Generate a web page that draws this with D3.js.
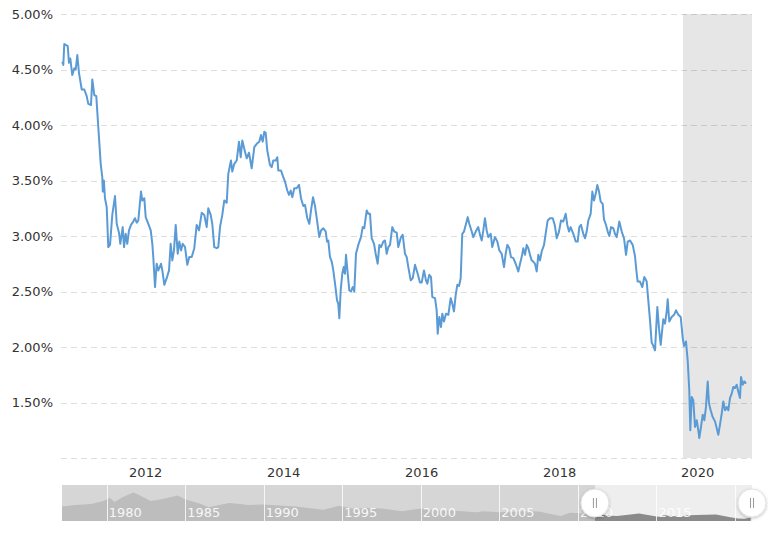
<!DOCTYPE html>
<html>
<head>
<meta charset="utf-8">
<script src="https://cdn.jsdelivr.net/npm/d3@7"></script>
<style>
  html, body { margin: 0; padding: 0; background: #fff; }
  svg { display: block; font-family: "DejaVu Sans", Verdana, sans-serif; }
</style>
</head>
<body>
<div id="chart"></div>
<script>
// weekly-ish readings, [decimal year, yield %]
const yields2011 = [[2011.089,4.57],[2011.104,4.54],[2011.118,4.73],[2011.168,4.71],[2011.186,4.56],[2011.205,4.60],[2011.234,4.45],[2011.263,4.51],[2011.284,4.50],[2011.307,4.63],[2011.331,4.47],[2011.371,4.32],[2011.408,4.32],[2011.443,4.26],[2011.466,4.19],[2011.505,4.18],[2011.524,4.41],[2011.553,4.27],[2011.582,4.26],[2011.611,3.98],[2011.646,3.65],[2011.669,3.53],[2011.676,3.40],[2011.692,3.50],[2011.708,3.34],[2011.733,3.26],[2011.756,2.90],[2011.781,2.92],[2011.814,3.19],[2011.853,3.36],[2011.878,3.11],[2011.911,3.03],[2011.930,2.93],[2011.965,3.08],[2011.984,2.90]];
const yields2012 = [[2012.008,3.02],[2012.031,2.93],[2012.056,3.05],[2012.085,3.10],[2012.118,3.13],[2012.143,3.16],[2012.168,3.12],[2012.191,3.14],[2012.230,3.40],[2012.249,3.32],[2012.278,3.34],[2012.298,3.17],[2012.336,3.11],[2012.371,3.05],[2012.394,2.93],[2012.408,2.81],[2012.433,2.54],[2012.457,2.75],[2012.481,2.69],[2012.520,2.75],[2012.539,2.69],[2012.568,2.56],[2012.602,2.62],[2012.636,2.69],[2012.660,2.93],[2012.684,2.78],[2012.708,2.87],[2012.733,3.10],[2012.762,2.84],[2012.785,2.95],[2012.810,2.87],[2012.834,2.93],[2012.868,2.90],[2012.901,2.74],[2012.930,2.81],[2012.965,2.81]];
const yields2013 = [[2013.002,2.89],[2013.037,3.10],[2013.071,3.05],[2013.110,3.21],[2013.147,3.19],[2013.182,3.08],[2013.205,3.25],[2013.240,3.19],[2013.263,3.11],[2013.292,2.90],[2013.327,2.89],[2013.350,2.90],[2013.375,3.08],[2013.408,3.19],[2013.437,3.32],[2013.472,3.30],[2013.495,3.56],[2013.534,3.68],[2013.553,3.58],[2013.582,3.65],[2013.617,3.68],[2013.650,3.85],[2013.675,3.71],[2013.698,3.86],[2013.737,3.76],[2013.762,3.70],[2013.795,3.75],[2013.834,3.61],[2013.872,3.80],[2013.907,3.83],[2013.944,3.85],[2013.969,3.91],[2013.994,3.85]];
const yields2014 = [[2014.017,3.94],[2014.037,3.93],[2014.060,3.77],[2014.099,3.64],[2014.124,3.62],[2014.147,3.68],[2014.182,3.68],[2014.205,3.71],[2014.220,3.59],[2014.259,3.59],[2014.292,3.53],[2014.317,3.49],[2014.350,3.41],[2014.375,3.37],[2014.399,3.41],[2014.423,3.35],[2014.452,3.43],[2014.486,3.43],[2014.520,3.46],[2014.549,3.34],[2014.582,3.27],[2014.607,3.28],[2014.640,3.16],[2014.669,3.11],[2014.694,3.23],[2014.723,3.35],[2014.752,3.27],[2014.781,3.14],[2014.814,2.99],[2014.839,3.05],[2014.872,3.07],[2014.907,3.04],[2014.926,2.95],[2014.944,2.96],[2014.969,2.81],[2014.994,2.77]];
const yields2015 = [[2015.017,2.69],[2015.042,2.57],[2015.071,2.42],[2015.089,2.39],[2015.104,2.26],[2015.124,2.51],[2015.147,2.66],[2015.168,2.72],[2015.186,2.66],[2015.201,2.83],[2015.226,2.66],[2015.249,2.51],[2015.273,2.50],[2015.298,2.54],[2015.321,2.50],[2015.346,2.84],[2015.379,2.92],[2015.418,2.99],[2015.443,3.08],[2015.466,3.07],[2015.501,3.23],[2015.524,3.20],[2015.549,3.20],[2015.573,2.98],[2015.607,2.93],[2015.631,2.84],[2015.660,2.75],[2015.684,2.92],[2015.708,2.90],[2015.742,2.95],[2015.766,2.96],[2015.791,2.84],[2015.814,2.90],[2015.839,2.92],[2015.872,3.08],[2015.901,3.04],[2015.936,3.03],[2015.959,2.90],[2015.998,2.99]];
const yields2016 = [[2016.023,3.01],[2016.056,2.84],[2016.081,2.81],[2016.104,2.72],[2016.139,2.60],[2016.168,2.62],[2016.201,2.74],[2016.240,2.66],[2016.273,2.58],[2016.298,2.58],[2016.331,2.69],[2016.360,2.60],[2016.379,2.57],[2016.408,2.65],[2016.433,2.63],[2016.452,2.45],[2016.491,2.44],[2016.515,2.33],[2016.530,2.12],[2016.553,2.27],[2016.578,2.18],[2016.597,2.30],[2016.621,2.23],[2016.650,2.30],[2016.684,2.29],[2016.718,2.44],[2016.742,2.39],[2016.766,2.32],[2016.791,2.47],[2016.814,2.56],[2016.839,2.55],[2016.863,2.62],[2016.886,3.02],[2016.911,3.04],[2016.936,3.10],[2016.965,3.17],[2016.988,3.11]];
const yields2017 = [[2017.023,3.04],[2017.046,2.99],[2017.081,3.04],[2017.118,3.08],[2017.143,3.01],[2017.168,2.96],[2017.191,3.05],[2017.215,3.16],[2017.240,3.05],[2017.263,2.99],[2017.298,3.02],[2017.321,2.90],[2017.360,2.99],[2017.394,2.95],[2017.423,2.87],[2017.457,2.84],[2017.491,2.72],[2017.515,2.84],[2017.539,2.92],[2017.568,2.89],[2017.592,2.81],[2017.626,2.80],[2017.660,2.75],[2017.698,2.68],[2017.723,2.75],[2017.747,2.81],[2017.771,2.89],[2017.795,2.83],[2017.820,2.92],[2017.843,2.89],[2017.868,2.83],[2017.892,2.78],[2017.915,2.77],[2017.940,2.75],[2017.965,2.68],[2017.988,2.83]];
const yields2018 = [[2018.013,2.78],[2018.037,2.86],[2018.071,2.92],[2018.099,3.04],[2018.124,3.14],[2018.157,3.16],[2018.197,3.16],[2018.226,3.10],[2018.255,2.98],[2018.288,3.04],[2018.317,3.14],[2018.350,3.13],[2018.385,3.20],[2018.408,3.10],[2018.433,3.04],[2018.457,3.08],[2018.495,3.02],[2018.530,2.95],[2018.559,2.95],[2018.582,3.08],[2018.607,3.10],[2018.640,3.02],[2018.665,2.98],[2018.689,3.04],[2018.713,3.14],[2018.747,3.20],[2018.771,3.40],[2018.795,3.32],[2018.820,3.38],[2018.843,3.46],[2018.868,3.40],[2018.892,3.31],[2018.921,3.29],[2018.940,3.15],[2018.969,3.10],[2018.994,3.04]];
const yields2019 = [[2019.017,3.00],[2019.042,3.08],[2019.075,3.07],[2019.099,3.02],[2019.124,2.99],[2019.162,3.13],[2019.197,3.04],[2019.230,2.98],[2019.259,2.83],[2019.284,2.95],[2019.317,2.96],[2019.356,2.92],[2019.389,2.82],[2019.414,2.66],[2019.428,2.59],[2019.462,2.59],[2019.495,2.54],[2019.524,2.63],[2019.559,2.59],[2019.582,2.42],[2019.607,2.24],[2019.631,2.04],[2019.655,2.01],[2019.679,1.97],[2019.713,2.36],[2019.737,2.17],[2019.762,2.02],[2019.799,2.25],[2019.824,2.21],[2019.849,2.32],[2019.863,2.43],[2019.886,2.23],[2019.921,2.27],[2019.955,2.29],[2019.984,2.33]];
const yields2020 = [[2020.017,2.29],[2020.052,2.27],[2020.081,2.08],[2020.099,2.01],[2020.128,2.05],[2020.153,1.88],[2020.176,1.61],[2020.191,1.25],[2020.211,1.55],[2020.234,1.52],[2020.259,1.28],[2020.284,1.34],[2020.307,1.25],[2020.321,1.18],[2020.346,1.28],[2020.371,1.39],[2020.394,1.34],[2020.418,1.46],[2020.443,1.69],[2020.462,1.49],[2020.486,1.43],[2020.515,1.37],[2020.549,1.33],[2020.573,1.27],[2020.597,1.21],[2020.621,1.30],[2020.646,1.40],[2020.669,1.51],[2020.694,1.43],[2020.718,1.46],[2020.742,1.43],[2020.766,1.54],[2020.791,1.58],[2020.814,1.64],[2020.839,1.63],[2020.863,1.66],[2020.886,1.60],[2020.911,1.54],[2020.926,1.73],[2020.950,1.66],[2020.973,1.69],[2020.998,1.67]];

// long history shown in the scrollbar, [decimal year, yield %]
const historyYields = [[1977.155,7.7],[1978,8.5],[1979,9.0],[1979.8,10.5],[1980.2,12.3],[1980.5,10.0],[1981,12.5],[1981.7,15.0],[1982,14.0],[1982.8,10.5],[1983.5,11.5],[1984.5,13.5],[1985,11.5],[1986,9.0],[1986.5,7.3],[1987.8,9.5],[1988.5,9.0],[1989,8.5],[1990,8.7],[1991,8.2],[1992,7.6],[1993.8,6.0],[1994.8,8.1],[1995.8,6.3],[1996.5,7.0],[1997.5,6.6],[1998.8,5.1],[2000,6.6],[2001,5.5],[2002,5.6],[2003.5,4.6],[2004,5.2],[2005,4.6],[2006.5,5.2],[2007.5,5.0],[2008.9,2.7],[2009.5,4.3],[2010.5,4.0],[2011.1,4.7],[2011.8,2.9],[2012.5,2.6],[2013.9,3.9],[2015.1,2.3],[2015.5,3.1],[2016.5,2.2],[2017,3.0],[2018.8,3.4],[2019.7,2.0],[2020.2,1.3],[2020.6,1.2],[2021,1.7]];

const viewRange = [2011.085, 2021.085];
const historyRange = [1977.155, 2021.085];
const recessionStart = 2020.085;
const yTicks = [1.5, 2.0, 2.5, 3.0, 3.5, 4.0, 4.5, 5.0];
const yGrid = [1.0, 1.5, 2.0, 2.5, 3.0, 3.5, 4.0, 4.5, 5.0];
const xTicks = [2012, 2014, 2016, 2018, 2020];
const historyTicks = [1980, 1985, 1990, 1995, 2000, 2005, 2010, 2015, 2020];
const historyLabels = [1980, 1985, 1990, 1995, 2000, 2005, 2010, 2015];

const WIDTH = 768;
const HEIGHT = 533;
const PLOT = { left: 62, right: 752, top: 14, bottom: 458 };
const NAV = { top: 485, bottom: 521 };

const svg = d3.select("#chart").append("svg")
  .attr("width", WIDTH)
  .attr("height", HEIGHT);

const x = d3.scaleLinear().domain(viewRange).range([PLOT.left, PLOT.right]);
const y = d3.scaleLinear().domain([1, 5]).range([PLOT.bottom, PLOT.top]);

/**
 * Shaded recession band, gridlines and the yield line.
 */
function renderPlot() {
  svg.append("rect")
    .attr("x", x(recessionStart))
    .attr("y", PLOT.top)
    .attr("width", x(viewRange[1]) - x(recessionStart))
    .attr("height", PLOT.bottom - PLOT.top)
    .attr("fill", "#e6e6e6");

  svg.append("g")
    .selectAll("line")
    .data(yGrid)
    .join("line")
    .attr("x1", PLOT.left - 1)
    .attr("x2", PLOT.right)
    .attr("y1", (d) => Math.round(y(d)) + 0.5)
    .attr("y2", (d) => Math.round(y(d)) + 0.5)
    .attr("stroke", "#000")
    .attr("stroke-opacity", 0.13)
    .attr("stroke-dasharray", "6 4");

  const series = [].concat(yields2011, yields2012, yields2013, yields2014, yields2015,
    yields2016, yields2017, yields2018, yields2019, yields2020);

  svg.append("path")
    .datum(series)
    .attr("fill", "none")
    .attr("stroke", "#5b9bd5")
    .attr("stroke-width", 2)
    .attr("stroke-linejoin", "round")
    .attr("d", d3.line().x((d) => x(d[0])).y((d) => y(d[1])));
}

/**
 * Value axis on the left and year axis under the plot.
 */
function renderAxes() {
  const yAxis = svg.append("g")
    .attr("transform", `translate(${PLOT.left},0)`)
    .call(d3.axisLeft(y).tickValues(yTicks).tickSize(0).tickPadding(9)
      .tickFormat((d) => d.toFixed(2) + "%"));

  const xAxis = svg.append("g")
    .attr("transform", `translate(0,${PLOT.bottom})`)
    .call(d3.axisBottom(x).tickValues(xTicks).tickSize(0).tickPadding(10)
      .tickFormat(d3.format("d")));
  // year labels sit a little right of Jan 1
  xAxis.selectAll("text").attr("dx", 20);

  [yAxis, xAxis].forEach((axis) => {
    axis.select(".domain").remove();
    axis.selectAll("text")
      .attr("fill", "#333")
      .style("font-size", "13px")
      .style("font-family", "'DejaVu Sans', Verdana, sans-serif");
  });
}

/**
 * Scrollbar with the full history and the selected window.
 */
function renderNavigator() {
  const nx = d3.scaleLinear().domain(historyRange).range([PLOT.left, PLOT.right]);
  const ny = d3.scaleLinear().domain([0, 19]).range([NAV.bottom, NAV.top]);
  const area = d3.area().x((d) => nx(d[0])).y0(NAV.bottom).y1((d) => ny(d[1]));
  const nav = svg.append("g");

  const defs = svg.append("defs");
  defs.append("clipPath").attr("id", "nav-clip")
    .append("rect")
    .attr("x", PLOT.left).attr("y", NAV.top)
    .attr("width", PLOT.right - PLOT.left).attr("height", NAV.bottom - NAV.top);
  defs.append("clipPath").attr("id", "sel-clip")
    .append("rect")
    .attr("x", nx(viewRange[0])).attr("y", NAV.top)
    .attr("width", nx(viewRange[1]) - nx(viewRange[0])).attr("height", NAV.bottom - NAV.top);
  const shadow = defs.append("filter").attr("id", "grip-shadow")
    .attr("x", "-50%").attr("y", "-50%").attr("width", "200%").attr("height", "200%");
  shadow.append("feDropShadow")
    .attr("dx", 0).attr("dy", 1).attr("stdDeviation", 1.5)
    .attr("flood-color", "#000").attr("flood-opacity", 0.25);

  const body = nav.append("g").attr("clip-path", "url(#nav-clip)");
  body.append("rect")
    .attr("x", PLOT.left).attr("y", NAV.top)
    .attr("width", PLOT.right - PLOT.left).attr("height", NAV.bottom - NAV.top)
    .attr("fill", "#d6d6d6");
  body.append("path").datum(historyYields).attr("fill", "#bdbdbd").attr("d", area);

  const sel = body.append("g").attr("clip-path", "url(#sel-clip)");
  sel.append("rect")
    .attr("x", nx(viewRange[0])).attr("y", NAV.top)
    .attr("width", nx(viewRange[1]) - nx(viewRange[0])).attr("height", NAV.bottom - NAV.top)
    .attr("fill", "#eeeeee");
  sel.append("path").datum(historyYields).attr("fill", "#8a8a8a").attr("d", area);

  body.append("g")
    .selectAll("line")
    .data(historyTicks)
    .join("line")
    .attr("x1", (d) => Math.round(nx(d)) + 0.5)
    .attr("x2", (d) => Math.round(nx(d)) + 0.5)
    .attr("y1", NAV.top)
    .attr("y2", NAV.bottom)
    .attr("stroke", "#fff")
    .attr("stroke-opacity", 0.8);

  body.append("g")
    .selectAll("text")
    .data(historyLabels)
    .join("text")
    .attr("x", (d) => nx(d) + 2)
    .attr("y", NAV.bottom - 4)
    .attr("fill", "#fff")
    .attr("fill-opacity", 0.9)
    .style("font-size", "13px")
    .text((d) => d);

  const grips = nav.append("g")
    .selectAll("g")
    .data(viewRange)
    .join("g")
    .attr("transform", (d) => `translate(${nx(d)},${(NAV.top + NAV.bottom) / 2})`);
  grips.append("circle")
    .attr("r", 14)
    .attr("fill", "#fff")
    .attr("stroke", "#e0e0e0")
    .attr("filter", "url(#grip-shadow)");
  grips.selectAll("line")
    .data([-1.5, 1.5])
    .join("line")
    .attr("x1", (d) => d).attr("x2", (d) => d)
    .attr("y1", -5).attr("y2", 5)
    .attr("stroke", "#999")
    .attr("stroke-width", 1);
}

renderPlot();
renderAxes();
renderNavigator();
</script>
</body>
</html>
